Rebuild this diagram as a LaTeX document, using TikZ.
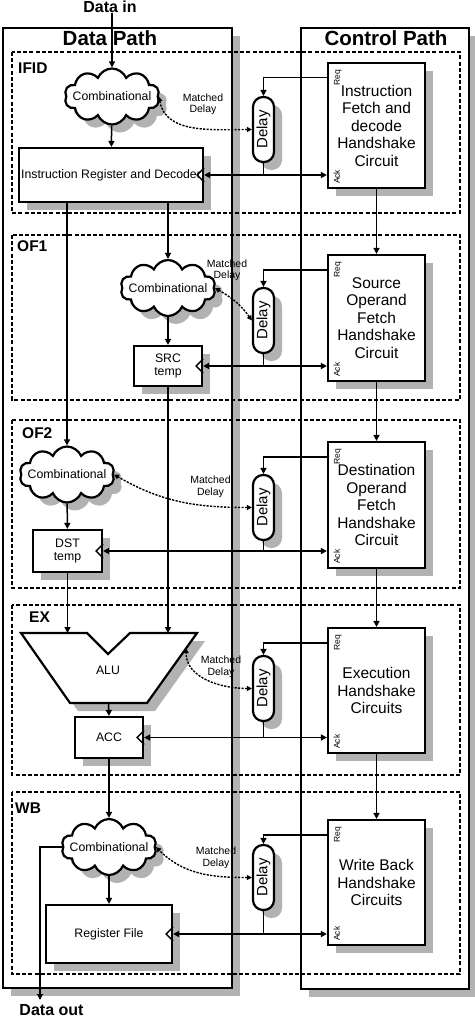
\documentclass[tikz,border=0pt]{standalone}
\usepackage{graphicx}
\usepackage{fontspec}
\setmainfont{Liberation Sans}
\usepackage{tikz}
\usetikzlibrary{arrows.meta,shapes.symbols,shadows}
\tikzset{
  shadowed/.style={drop shadow={shadow xshift=8pt, shadow yshift=-8pt, fill=black!30, opacity=1}},
  pathbox/.style={draw, line width=2.6pt, fill=white, shadowed},
  stage/.style={draw, line width=2pt, dash pattern=on 4pt off 2.2pt},
  reg/.style={draw, line width=2.2pt, fill=white, shadowed, align=center, inner sep=2pt, font=\fontsize{12.3}{13.5}\selectfont},
  comb/.style={cloud, cloud puffs=10, cloud puff arc=135, aspect=1.7, draw, line width=2.2pt, fill=white, shadowed, minimum width=95pt, minimum height=56pt, inner sep=0pt},
  ctext/.style={inner sep=0pt, font=\fontsize{12.3}{14}\selectfont},
  dly/.style={draw, line width=2.2pt, rounded corners=10pt, fill=white, shadowed, minimum width=21pt, minimum height=65pt, inner sep=0pt, font=\fontsize{15}{17}\selectfont},
  hs/.style={draw, line width=2.2pt, fill=white, shadowed, minimum width=97pt, minimum height=125.5pt, align=center, font=\fontsize{15.5}{17.5}\selectfont},
  port/.style={rotate=90, inner sep=0pt, font=\fontsize{8.5}{10}\selectfont},
  alu/.style={draw, line width=2.2pt, fill=white, shadowed, line join=miter},
  wire/.style={line width=1.5pt},
  arrow/.style={wire, -{Triangle[length=6pt,width=6pt]}},
  biarrow/.style={wire, {Triangle[length=6pt,width=6pt]}-{Triangle[length=6pt,width=6pt]}},
  matched/.style={line width=1.4pt, dash pattern=on 2.2pt off 1.3pt, {Triangle[length=5pt,width=5pt]}-{Triangle[length=5pt,width=5pt]}},
  mtext/.style={align=center, inner sep=0pt, font=\fontsize{10.5}{11.5}\selectfont},
  hdr/.style={inner sep=0pt, font=\bfseries\fontsize{20.5}{24}\selectfont},
  io/.style={inner sep=0pt, font=\bfseries\fontsize{16}{19}\selectfont},
  stagename/.style={anchor=west, inner sep=0pt, font=\bfseries\fontsize{15.5}{18}\selectfont}
}
\newcommand{\clk}[1]{\draw[line width=1.5pt] ([yshift=7pt]#1.east) -- ([xshift=-7pt]#1.east) -- ([yshift=-7pt]#1.east);}

\begin{document}
\begin{tikzpicture}[x=1pt, y=1pt]
    \useasboundingbox (0,0) rectangle (474,-1017);
    % Paths
    \node[pathbox, minimum width=229pt, minimum height=960pt] (dp) at (117.5,-508) {};
    \node[pathbox, minimum width=168pt, minimum height=961pt] (cp) at (385,-508.5) {};
    \node[hdr] (dpt) at (110,-38.5) {Data Path};
    \node[hdr] (cpt) at (386,-38.5) {Control Path};
    % Stages
    \draw[stage] (12,-52) rectangle (460,-213);
    \node[stagename] (sifid) at (18,-68) {IFID};
    \draw[stage] (12,-235) rectangle (460,-400);
    \node[stagename] (sof1) at (17,-246) {OF1};
    \draw[stage] (12,-420) rectangle (460,-588);
    \node[stagename] (sof2) at (22,-433) {OF2};
    \draw[stage] (12,-605) rectangle (460,-775);
    \node[stagename] (sex) at (29,-617) {EX};
    \draw[stage] (12,-792) rectangle (460,-974);
    \node[stagename] (swb) at (15,-808) {WB};

    % IFID
    \node[io] (din) at (110,-7) {Data in};
    \node[comb, label={[ctext]center:Combinational}] (c1) at (112,-96.5) {};
    \node[reg, minimum width=184pt, minimum height=54pt] (ir) at (111,-175) {Instruction Register and Decoder};
    \node[dly] (d1) at (263.5,-129.5) {\rotatebox{90}{Delay}};
    \node[hs] (h1) at (376.5,-125.5) {Instruction\\Fetch and\\decode\\Handshake\\Circuit};
    \node[port] (q1) at ([xshift=11pt,yshift=-16pt]h1.north west) {Req};
    \node[port] (k1) at ([xshift=10pt,yshift=12.5pt]h1.south west) {Ack};
    \node[mtext] (m1) at (203,-104.5) {Matched\\Delay};
    \clk{ir}
    \draw[arrow] (din.south -| c1) -- (c1);
    \draw[arrow] (c1) -- (ir);
    \draw[arrow] ([yshift=-16pt]h1.north west) -| (d1.north);
    \draw[biarrow] (ir.east) -- (ir.east -| h1.west);
    \draw[wire] (d1.south) -- (d1.south |- ir.east);
    \draw[matched] (d1.west) to[out=180, in=-80] (c1.east);

    % OF1
    \node[comb, label={[ctext]center:Combinational}] (c2) at (168,-288) {};
    \node[reg, minimum width=68pt, minimum height=40pt] (src) at (168,-366) {SRC\\temp};
    \node[dly] (d2) at (263.5,-320.5) {\rotatebox{90}{Delay}};
    \node[hs, minimum height=126pt] (h2) at (376.5,-318) {Source\\Operand\\Fetch\\Handshake\\Circuit};
    \node[port] (q2) at ([xshift=11pt,yshift=-16pt]h2.north west) {Req};
    \node[port] (k2) at ([xshift=10pt,yshift=12.5pt]h2.south west) {Ack};
    \node[mtext] (m2) at (227,-270.5) {Matched\\Delay};
    \clk{src}
    \draw[arrow] (ir.south -| c2) -- (c2);
    \draw[arrow] (c2) -- (src);
    \draw[arrow] (h1) -- (h2);
    \draw[arrow] ([yshift=-16pt]h2.north west) -| (d2.north);
    \draw[biarrow] (src.east) -- (src.east -| h2.west);
    \draw[wire] (d2.south) -- (d2.south |- src.east);
    \draw[matched] (d2.west) to[out=125, in=-30] (c2.east);

    % OF2
    \node[comb, label={[ctext]center:Combinational}] (c3) at (67,-474.5) {};
    \node[reg, minimum width=69pt, minimum height=42pt] (dst) at (67.5,-551) {DST\\temp};
    \node[dly] (d3) at (263.5,-507.5) {\rotatebox{90}{Delay}};
    \node[hs, minimum height=126pt] (h3) at (376.5,-505) {Destination\\Operand\\Fetch\\Handshake\\Circuit};
    \node[port] (q3) at ([xshift=11pt,yshift=-16pt]h3.north west) {Req};
    \node[port] (k3) at ([xshift=10pt,yshift=12.5pt]h3.south west) {Ack};
    \node[mtext] (m3) at (210.5,-487) {Matched\\Delay};
    \clk{dst}
    \draw[arrow] (ir.south -| c3) -- (c3);
    \draw[arrow] (c3) -- (dst);
    \draw[arrow] (h2) -- (h3);
    \draw[arrow] ([yshift=-16pt]h3.north west) -| (d3.north);
    \draw[biarrow] (dst.east) -- (dst.east -| h3.west);
    \draw[wire] (d3.south) -- (d3.south |- dst.east);
    \draw[matched] (d3.west) to[out=180, in=-30] (c3.east);

    % EX
    \draw[alu] (21,-633) -- (87,-633) -- (108,-654) -- (130,-633) -- (197,-633) -- (147,-703) -- (70,-703) -- cycle;
    \coordinate (alutop) at (108,-633);
    \coordinate (aluout) at (108.5,-703);
    \coordinate (alum) at (186,-648);
    \node[ctext] (alu) at (108,-670) {ALU};
    \node[reg, minimum width=68pt, minimum height=41pt] (acc) at (109,-737.5) {ACC};
    \node[dly] (d4) at (263.5,-688.5) {\rotatebox{90}{Delay}};
    \node[hs, minimum height=125pt] (h4) at (376.5,-690.5) {Execution\\Handshake\\Circuits};
    \node[port] (q4) at ([xshift=11pt,yshift=-16pt]h4.north west) {Req};
    \node[port] (k4) at ([xshift=10pt,yshift=12.5pt]h4.south west) {Ack};
    \node[mtext] (m4) at (221,-667) {Matched\\Delay};
    \clk{acc}
    \draw[arrow] (dst.south) -- (dst.south |- alutop);
    \draw[arrow] (src.south) -- (src.south |- alutop);
    \draw[arrow] (aluout) -- (acc.north);
    \draw[arrow] (h3) -- (h4);
    \draw[arrow] ([yshift=-16pt]h4.north west) -| (d4.north);
    \draw[biarrow] (acc.east) -- (acc.east -| h4.west);
    \draw[wire] (d4.south) -- (d4.south |- acc.east);
    \draw[matched] (d4.west) to[out=180, in=-90] (alum);

    % WB
    \node[comb, label={[ctext]center:Combinational}] (c5) at (109,-847) {};
    \node[reg, minimum width=126pt, minimum height=58pt] (rf) at (109,-934) {Register File};
    \node[dly] (d5) at (263.5,-877.5) {\rotatebox{90}{Delay}};
    \node[hs, minimum height=125pt] (h5) at (376.5,-882.5) {Write Back\\Handshake\\Circuits};
    \node[port] (q5) at ([xshift=11pt,yshift=-16pt]h5.north west) {Req};
    \node[port] (k5) at ([xshift=10pt,yshift=12.5pt]h5.south west) {Ack};
    \node[mtext] (m5) at (216,-858) {Matched\\Delay};
    \clk{rf}
    \coordinate (dout) at (40,-1000);
    \node[io, anchor=base] (doutt) at (51.5,-1015) {Data out};
    \draw[arrow] (acc) -- (c5);
    \draw[arrow] (c5) -- (rf);
    \draw[arrow] (h4) -- (h5);
    \draw[arrow] ([yshift=-16pt]h5.north west) -| (d5.north);
    \draw[biarrow] (rf.east) -- (rf.east -| h5.west);
    \draw[wire] (d5.south) -- (d5.south |- rf.east);
    \draw[matched] (d5.west) to[out=180, in=-45] (c5.east);
    \draw[arrow] (c5.west) -| (dout);
  \end{tikzpicture}
\end{document}
